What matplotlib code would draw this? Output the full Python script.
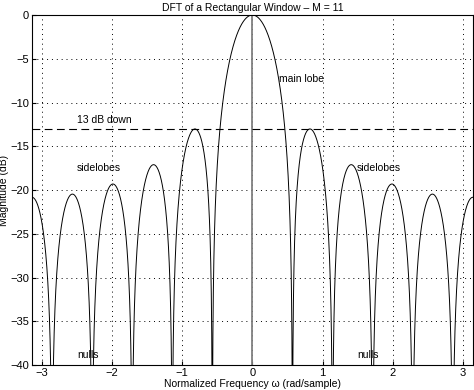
import numpy as np
import matplotlib
matplotlib.use('Agg')
import matplotlib.pyplot as plt

plt.rcParams['font.family'] = ['Liberation Sans', 'DejaVu Sans']

# Rectangular window, length M, and FFT length for a smooth DFT curve
M = 11
window = np.ones(M)
nfft = 4096
down_db = -13
xticks = [-3, -2, -1, 0, 1, 2, 3]
yticks = [-40, -35, -30, -25, -20, -15, -10, -5, 0]

W = np.fft.fftshift(np.fft.fft(window, nfft))
w = np.fft.fftshift(np.fft.fftfreq(nfft)) * 2 * np.pi
with np.errstate(divide='ignore'):
    mag = 20 * np.log10(np.abs(W) / np.abs(W).max())

fig = plt.figure(figsize=(4.74, 3.90), dpi=100)
ax = fig.add_axes([0.0675, 0.064, 0.93, 0.8975])

ax.plot(w, mag, color='black', lw=0.7)
ax.axvline(0, color='0.5', lw=1.3)
ax.axhline(down_db, color='black', lw=0.8, dashes=(7, 4))

ax.set_xlim(-np.pi, np.pi)
ax.set_ylim(-40, 0)
ax.set_xticks(xticks)
ax.set_yticks(yticks)
ax.grid(True, linestyle=(0, (1, 4)), color='black', lw=0.7)
ax.tick_params(direction='in', labelsize=8, length=3, pad=2)

ax.set_title('DFT of a Rectangular Window \u2013 M = 11', fontsize=7.5, pad=3)
ax.set_xlabel('Normalized Frequency \u03c9 (rad/sample)', fontsize=7.5, labelpad=1)
ax.set_ylabel('Magnitude (dB)', fontsize=7.5)
ax.yaxis.set_label_coords(-0.052, 0.5)

ax.text(0.38, -7.3, 'main lobe', fontsize=7.5, va='center')
ax.text(-2.5, -12.0, '13 dB down', fontsize=7.5, va='center')
ax.text(-2.5, -17.5, 'sidelobes', fontsize=7.5, va='center')
ax.text(1.49, -17.5, 'sidelobes', fontsize=7.5, va='center')
ax.text(-2.5, -38.9, 'nulls', fontsize=7.5, va='center')
ax.text(1.49, -38.9, 'nulls', fontsize=7.5, va='center')

fig.savefig('out.png', dpi=100)
